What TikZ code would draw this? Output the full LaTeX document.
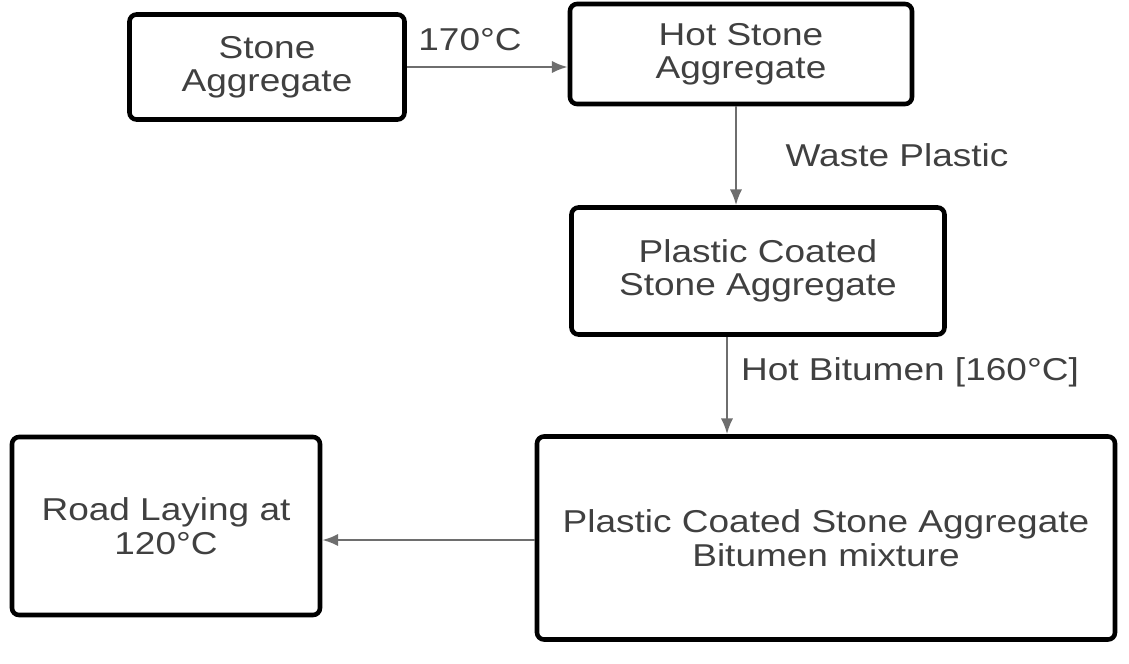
\documentclass[tikz,border=0pt]{standalone}
\usepackage{fontspec}
\setmainfont{Liberation Sans}[FakeStretch=1.17]
\usepackage{xcolor}
\definecolor{flowgray}{RGB}{110,110,110}
\usetikzlibrary{arrows.meta}

\tikzset{
    stepbox/.style={draw=black, line width=2.6pt, rounded corners=4pt, align=center,
        inner sep=0pt, font=\fontsize{18}{19}\selectfont, text=black!75},
    flow/.style={-{Latex[length=9pt,width=7pt]}, line width=1.3pt, draw=flowgray},
    flowlabel/.style={font=\fontsize{18}{19}\selectfont, text=black!75}
}

\begin{document}
\begin{tikzpicture}[x=0.02cm, y=-0.02cm]
            \useasboundingbox (0,0) rectangle (1129,663);

            % process steps
            \node[stepbox, minimum width=275*0.02cm, minimum height=105*0.02cm] (stone) at (267,67) {Stone\\Aggregate};
            \node[stepbox, minimum width=342*0.02cm, minimum height=100*0.02cm] (hot) at (741,54) {Hot Stone\\Aggregate};
            \node[stepbox, minimum width=373*0.02cm, minimum height=127*0.02cm] (coated) at (758,271) {Plastic Coated\\Stone Aggregate};
            \node[stepbox, minimum width=578*0.02cm, minimum height=203*0.02cm] (mix) at (826,538) {Plastic Coated Stone Aggregate\\Bitumen mixture};
            \node[stepbox, minimum width=308*0.02cm, minimum height=178*0.02cm] (road) at (166,526) {Road Laying at\\120\textdegree C};

            % connectors
            \draw[flow] (stone.east |- 0,67) -- (hot.west |- 0,67);
            \node[flowlabel] (lblheat) at (470,40) {170\textdegree C};

            \draw[flow] (hot.south -| 736,0) -- (coated.north -| 736,0);
            \node[flowlabel] (lblplastic) at (897,155) {Waste Plastic};

            \draw[flow] (coated.south -| 727,0) -- (mix.north -| 727,0);
            \node[flowlabel] (lblbitumen) at (910,372) {Hot Bitumen [160\textdegree C]};

            \draw[flow] (mix.west |- 0,540) -- (road.east |- 0,540);
\end{tikzpicture}
\end{document}
